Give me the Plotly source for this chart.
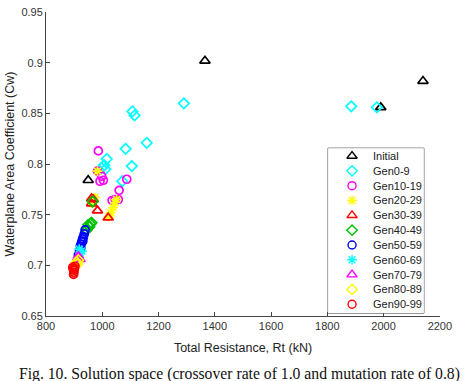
import plotly.graph_objects as go

# ---- data ----
series_names = ["Initial", "Gen0-9", "Gen10-19", "Gen20-29", "Gen30-39", "Gen40-49",
                "Gen50-59", "Gen60-69", "Gen70-79", "Gen80-89", "Gen90-99"]

initial_x = [1365, 2140, 1990, 950]
initial_y = [0.902, 0.882, 0.856, 0.784]

gen0_x = [1290, 1107, 1115, 1158, 1083, 1105, 1016, 1007, 1011, 998, 1071, 1885, 1976]
gen0_y = [0.860, 0.852, 0.848, 0.821, 0.815, 0.798, 0.805, 0.799, 0.795, 0.796, 0.783, 0.857, 0.856]

gen10_x = [986, 983, 998, 1004, 992, 1087, 1060, 1035, 1046, 1057]
gen10_y = [0.813, 0.793, 0.788, 0.784, 0.783, 0.785, 0.774, 0.764, 0.765, 0.765]

gen20_x = [983, 1051, 1039, 1045, 974, 962, 1023, 1030]
gen20_y = [0.793, 0.765, 0.757, 0.762, 0.767, 0.761, 0.748, 0.752]

gen30_x = [962, 968, 983, 1021, 962]
gen30_y = [0.766, 0.765, 0.754, 0.747, 0.761]

gen40_x = [962, 954, 945, 966, 950, 958]
gen40_y = [0.742, 0.738, 0.735, 0.763, 0.740, 0.741]

gen50_x = [939, 933, 927, 922, 919, 915, 930, 936, 925, 931, 924]
gen50_y = [0.735, 0.728, 0.723, 0.719, 0.714, 0.710, 0.726, 0.731, 0.721, 0.724, 0.717]

gen60_x = [927, 922, 918]
gen60_y = [0.714, 0.712, 0.716]

gen70_x = [915, 921, 912]
gen70_y = [0.709, 0.706, 0.707]

gen80_x = [909, 915, 911]
gen80_y = [0.703, 0.705, 0.701]

gen90_x = [903, 897, 899, 901, 895, 900, 898]
gen90_y = [0.699, 0.696, 0.693, 0.697, 0.698, 0.695, 0.691]

xs = [initial_x, gen0_x, gen10_x, gen20_x, gen30_x, gen40_x, gen50_x, gen60_x, gen70_x, gen80_x, gen90_x]
ys = [initial_y, gen0_y, gen10_y, gen20_y, gen30_y, gen40_y, gen50_y, gen60_y, gen70_y, gen80_y, gen90_y]

x_ticks = [800, 1000, 1200, 1400, 1600, 1800, 2000, 2200]
y_ticks = [0.65, 0.7, 0.75, 0.8, 0.85, 0.9, 0.95]
y_tick_text = ["0.65", "0.7", "0.75", "0.8", "0.85", "0.9", "0.95"]

# ---- styles ----
colors = ["#000000", "#00FFFF", "#FF00FF", "#FFFF00", "#FF0000", "#00C000",
          "#0000FF", "#00FFFF", "#FF00FF", "#FFFF00", "#FF0000"]
symbols = ["triangle-up-open", "diamond-open", "circle-open", "asterisk-open",
           "triangle-up-open", "diamond-open", "circle-open", "asterisk-open",
           "triangle-up-open", "diamond-open", "circle-open"]
sizes = [9, 8, 8, 8, 9, 8, 8, 8, 9, 8, 8]

fig = go.Figure()
for name, x, y, c, s, sz in zip(series_names, xs, ys, colors, symbols, sizes):
    fig.add_trace(go.Scatter(
        x=x, y=y, mode="markers", name=name, showlegend=False,
        marker=dict(symbol=s, size=sz, color=c, line=dict(color=c, width=1.7)),
        xaxis="x", yaxis="y"))

# manual legend (MATLAB-style compact box)
step = 15.1
for i, (name, c, s, sz) in enumerate(zip(series_names, colors, symbols, sizes)):
    fig.add_trace(go.Scatter(
        x=[0.25], y=[8 + step * i], mode="markers", showlegend=False, hoverinfo="skip",
        marker=dict(symbol=s, size=sz, color=c, line=dict(color=c, width=1.4)),
        xaxis="x2", yaxis="y2"))
    fig.add_annotation(x=0.45, y=8 + step * i, xref="x2", yref="y2", text=name,
                       showarrow=False, xanchor="left", yanchor="middle",
                       font=dict(family="Liberation Sans, Arial", size=11, color="#222"))

fig.add_shape(type="rect", xref="x2 domain", yref="y2 domain", x0=0, x1=1, y0=0, y1=1,
              line=dict(color="#333", width=1), fillcolor="rgba(255,255,255,0)", layer="below")

tick_font = dict(family="Liberation Sans, Arial", size=11, color="#333")

fig.update_layout(
    width=474, height=381,
    margin=dict(l=46, r=34, t=6, b=65),
    paper_bgcolor="white", plot_bgcolor="white",
    xaxis=dict(range=[800, 2200.5], tickvals=x_ticks, ticks="inside", ticklen=4,
               tickcolor="#444", showline=True, linecolor="#444", linewidth=1,
               showgrid=False, zeroline=False, tickfont=tick_font,
               title=dict(text="Total Resistance, Rt (kN)", standoff=12,
                          font=dict(family="Liberation Sans, Arial", size=12.5, color="#222"))),
    yaxis=dict(range=[0.6499, 0.9502], tickvals=y_ticks, ticktext=y_tick_text, ticks="inside",
               ticklen=4, tickcolor="#444", showline=True, linecolor="#444", linewidth=1,
               showgrid=False, zeroline=False, tickfont=tick_font,
               title=dict(text="Waterplane Area Coefficient (Cw)", standoff=4,
                          font=dict(family="Liberation Sans, Arial", size=12.5, color="#222"))),
    xaxis2=dict(domain=[0.716, 0.959], range=[0, 1], anchor="y2", visible=False, fixedrange=True),
    yaxis2=dict(domain=[0.0097, 0.552], range=[168, 0], anchor="x2", visible=False, fixedrange=True),
)

fig.add_annotation(x=0.5, y=0, xref="paper", yref="paper", yshift=-47, xshift=-4,
                   text="Fig. 10. Solution space (crossover rate of 1.0 and mutation rate of 0.8)",
                   showarrow=False, xanchor="center", yanchor="top",
                   font=dict(family="Liberation Serif, Times New Roman", size=15.7, color="#111"))

fig.write_html("out.html", config={"displayModeBar": False},
               post_script="document.body.style.margin='0';document.body.style.overflow='hidden';")
